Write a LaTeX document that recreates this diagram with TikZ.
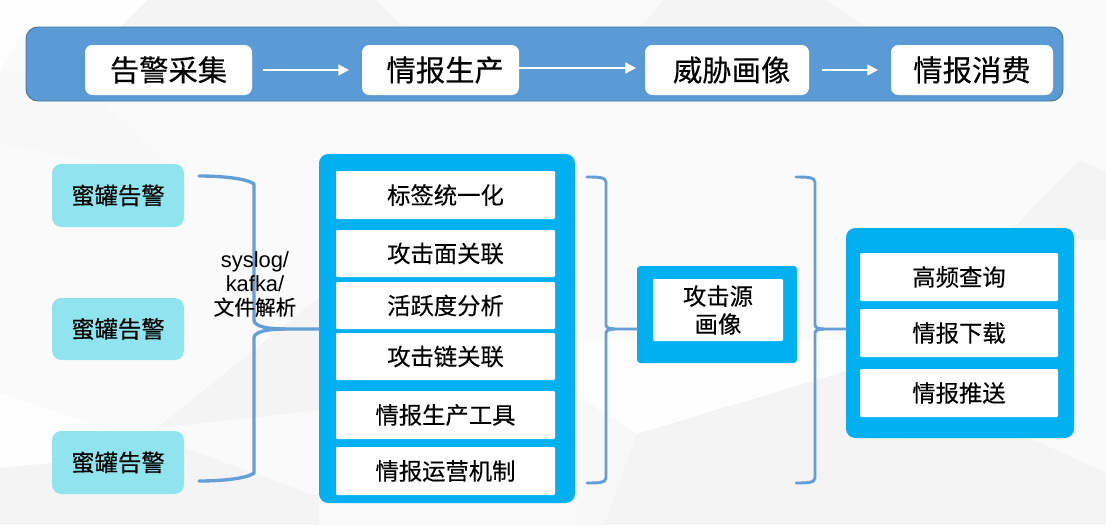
\documentclass[tikz,border=0pt]{standalone}
\usepackage{fontspec}
\setmainfont[FakeBold=0.3]{Noto Sans CJK SC}
\newfontfamily\latinlabel[Scale=1.06]{Liberation Sans}
\usetikzlibrary{arrows.meta}
\definecolor{barblue}{HTML}{5B9BD5}
\definecolor{panelblue}{HTML}{00B0F0}
\definecolor{alarm}{HTML}{8FE4EE}
\definecolor{linkblue}{HTML}{649FD8}
\definecolor{bgbase}{HTML}{FAFAFB}
\definecolor{bgshade}{HTML}{F4F4F5}
\definecolor{bglight}{HTML}{F8F8F9}
\definecolor{bgwhite}{HTML}{FEFEFE}
\tikzset{
  x=0.75pt,y=-0.75pt,
  px/.style args={#1x#2}{minimum width=#1*0.75pt,minimum height=#2*0.75pt,inner sep=0pt,outer sep=0pt},
  bar/.style={fill=barblue,draw=barblue!75!black,line width=0.7pt,rounded corners=9pt},
  headbox/.style={fill=white,rounded corners=5.5pt,font=\fontsize{22}{26}\selectfont},
  headarrow/.style={draw=white,line width=1.8pt,-{Triangle[length=8pt,width=8pt]}},
  alarmbox/.style={fill=alarm,rounded corners=7pt,font=\fontsize{17.5}{21}\selectfont},
  panel/.style={fill=panelblue,rounded corners=7pt},
  item/.style={fill=white,rounded corners=0.8pt,font=\fontsize{17.5}{21}\selectfont,align=center},
  link/.style={draw=linkblue,line width=2.2pt,line cap=round,line join=round},
  shade/.style={fill=bgshade,draw=none},
  lightshade/.style={fill=bglight,draw=none}
}
\begin{document}
\begin{tikzpicture}
\useasboundingbox (0,0) rectangle (1106,525);
% background
\fill[bgbase] (0,0) rectangle (1106,525);
\fill[bgwhite] (0,0) -- (148,0) -- (120,27) -- (26,27) -- (0,72) -- cycle;
\fill[shade] (148,0) -- (375,0) -- (402,27) -- (120,27) -- cycle;
\fill[shade] (664,0) -- (825,0) -- (866,27) -- (640,27) -- cycle;
\fill[lightshade] (0,72) -- (26,72) -- (26,101) -- (100,101) -- (187,180) -- (0,143) -- cycle;
\fill[shade] (1079,160) -- (1106,172) -- (1106,240) -- (1002,240) -- cycle;
\fill[shade] (320,297) -- (157,428) -- (320,410) -- cycle;
\fill[bgwhite] (0,393) -- (120,433) -- (52,463) -- (0,468) -- cycle;
\fill[shade] (0,468) -- (52,463) -- (185,448) -- (319,497) -- (319,525) -- (0,525) -- cycle;
\fill[bgwhite] (576,340) -- (846,340) -- (846,371) -- (637,434) -- (576,395) -- cycle;
\fill[lightshade] (576,395) -- (637,434) -- (604,525) -- (576,525) -- cycle;
\fill[shade] (637,434) -- (846,371) -- (1000,371) -- (1030,438) -- (1106,473) -- (1106,525) -- (604,525) -- cycle;
% top bar
\node[bar,px=1037x74,anchor=north west] (topbar) at (26,27) {};
\node[headbox,px=167x50,anchor=north west] (h1) at (85,45) {告警采集};
\node[headbox,px=157x50,anchor=north west] (h2) at (362,45) {\kern7pt 情报生产};
\node[headbox,px=164x50,anchor=north west] (h3) at (645,45) {\kern7pt 威胁画像};
\node[headbox,px=162x50,anchor=north west] (h4) at (891,45) {情报消费};
\coordinate (a1s) at (263,70);
\coordinate (a1e) at (349,70);
\coordinate (a2e) at (636,68);
\coordinate (a3s) at (822,70);
\coordinate (a3e) at (878,70);
\draw[headarrow] (a1s) -- (a1e);
\draw[headarrow] (a2e -| h2.east) -- (a2e);
\draw[headarrow] (a3s) -- (a3e);
% left alarms
\node[alarmbox,px=132x63,anchor=north west] (m1) at (52,164) {蜜罐告警};
\node[alarmbox,px=132x62,anchor=north west] (m2) at (52,298) {蜜罐告警};
\node[alarmbox,px=132x63,anchor=north west] (m3) at (52,431) {蜜罐告警};
% panels
\node[panel,px=256x349,anchor=north west] (pmid) at (319,154) {};
\node[item,px=219x48,anchor=north west] (i1) at (336,171) {标签统一化};
\node[item,px=219x47,anchor=north west] (i2) at (336,230) {攻击面关联};
\node[item,px=219x47,anchor=north west] (i3) at (336,282) {活跃度分析};
\node[item,px=219x47,anchor=north west] (i4) at (336,333) {攻击链关联};
\node[item,px=219x48,anchor=north west] (i5) at (336,391) {情报生产工具};
\node[item,px=219x48,anchor=north west] (i6) at (336,447) {情报运营机制};
\node[panel,rounded corners=2.5pt,px=160x97,anchor=north west] (psrc) at (637,266) {};
\node[item,px=130x62,anchor=north west] (src) at (653,279) {攻击源\\画像};
\node[panel,px=228x210,anchor=north west] (pout) at (846,228) {};
\node[item,px=198x48,anchor=north west] (o1) at (860,253) {高频查询};
\node[item,px=198x48,anchor=north west] (o2) at (860,309) {情报下载};
\node[item,px=198x48,anchor=north west] (o3) at (860,369) {情报推送};
% braces
\coordinate (b1a) at (199,176);
\coordinate (b1b) at (199,481);
\coordinate (b1m) at (254,329);
\draw[link,line width=2.5pt] (b1a) .. controls (225,176) and (248,179) .. (254,184) -- (254,320)
  .. controls (254,327) and (270,329) .. (285,329) -- (b1m -| pmid.west);
\draw[link,line width=2.5pt] (b1b) .. controls (225,481) and (248,478) .. (254,473) -- (254,338)
  .. controls (254,331) and (270,329) .. (285,329);
\coordinate (b2a) at (587,177);
\coordinate (b2b) at (587,483);
\coordinate (b2m) at (606,329);
\draw[link] (b2a) .. controls (597,177) and (606,177) .. (606,182) -- (606,325)
  .. controls (606,328) and (610,329) .. (615,329) -- (b2m -| psrc.west);
\draw[link] (b2b) .. controls (597,483) and (606,483) .. (606,478) -- (606,333)
  .. controls (606,330) and (610,329) .. (615,329);
\coordinate (b3a) at (796,177);
\coordinate (b3b) at (796,483);
\coordinate (b3m) at (815,329);
\draw[link] (b3a) .. controls (806,177) and (815,177) .. (815,182) -- (815,325)
  .. controls (815,328) and (819,329) .. (824,329) -- (b3m -| pout.west);
\draw[link] (b3b) .. controls (806,483) and (815,483) .. (815,478) -- (815,333)
  .. controls (815,330) and (819,329) .. (824,329);
% label
\node[align=center,inner sep=0pt,font=\fontsize{15.5}{18}\selectfont] (via) at (255,284) {{\latinlabel syslog/}\\{\latinlabel kafka/}\\文件解析};
\end{tikzpicture}
\end{document}
